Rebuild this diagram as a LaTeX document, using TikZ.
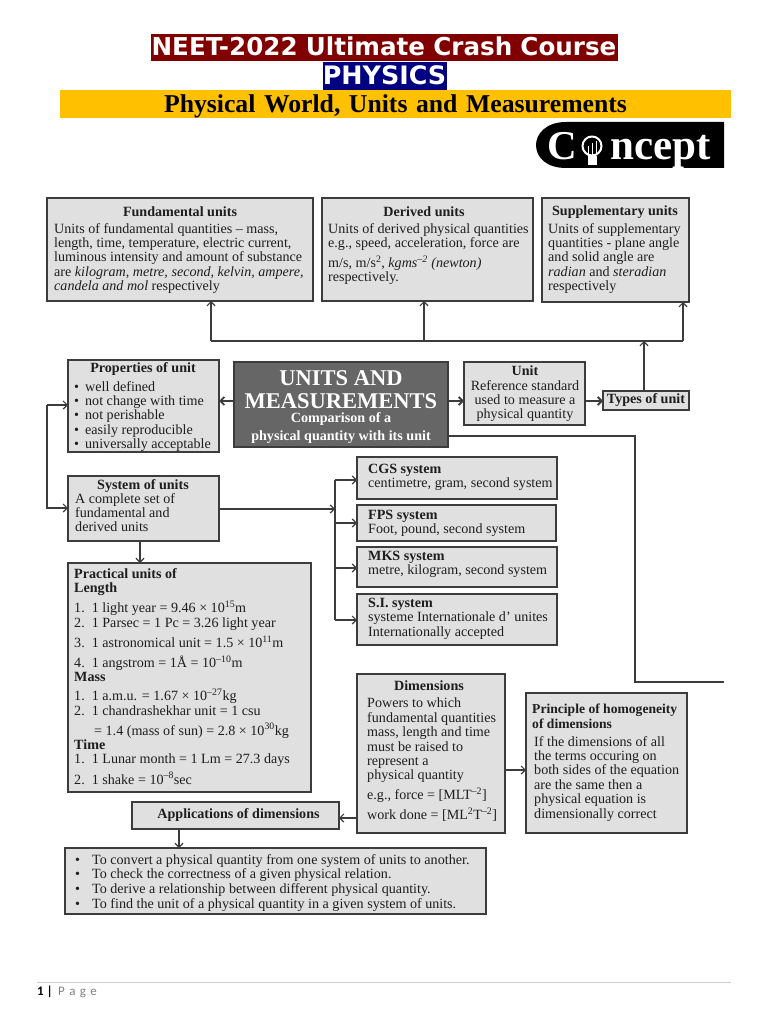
\documentclass[tikz,border=0pt]{standalone}
\usepackage{fontspec}
\setmainfont{Liberation Serif}
\newfontfamily\bannerfont{DejaVu Sans}
\newfontfamily\pagefont{Carlito}
\usetikzlibrary{arrows.meta,calc,positioning}
\definecolor{boxgray}{HTML}{E0E0E0}
\definecolor{boxline}{HTML}{3C3C3C}
\definecolor{maingray}{HTML}{666666}
\definecolor{inkgray}{HTML}{1E1E1E}
\definecolor{courseRed}{HTML}{800000}
\definecolor{physicsBlue}{HTML}{000080}
\definecolor{topicYellow}{HTML}{FFC000}
\newcommand{\up}[1]{\textsuperscript{#1}}
\newcommand{\dotitem}{\makebox[11pt][l]{•}}
\newcommand{\barbullet}{\makebox[17pt][l]{•}}
\tikzset{
  panel/.style={draw=boxline,fill=boxgray,line width=1.4pt,anchor=north west,inner sep=0pt,outer sep=0pt},
  panelhead/.style={text=inkgray,font=\bfseries\fontsize{14.1}{14.4}\selectfont,inner sep=0pt},
  paneltext/.style={text=inkgray,anchor=north west,align=left,inner sep=0pt,font=\fontsize{14.1}{14.4}\selectfont,execute at begin node=\strut},
  banner/.style={text=white,inner sep=0pt,font=\bannerfont\bfseries\fontsize{24.6}{26}\selectfont},
  mainhead/.style={text=white,inner sep=0pt,font=\bfseries\fontsize{22.5}{24}\selectfont},
  mainsub/.style={text=white,inner sep=0pt,font=\bfseries\fontsize{14.1}{15}\selectfont},
  wire/.style={draw=boxline,line width=1.2pt},
  link/.style={wire,-{Straight Barb[length=4pt,width=8pt]}},
  biglink/.style={link,line width=1.9pt}
}
\begin{document}
\begin{tikzpicture}[x=1pt,y=-1pt]
\useasboundingbox (0,0) rectangle (768,1024);
% page header
\node[banner,fill=courseRed,text width=467,align=center,text height=22,text depth=5] (course) at (384,47.5) {NEET-2022 Ultimate Crash Course};
\node[banner,fill=physicsBlue,text width=124,align=center,text height=23,text depth=5] (physics) at (384.5,76) {\fontsize{25.4}{26}\selectfont PHYSICS};
\node[fill=topicYellow,text=black,inner sep=0pt,text width=671,align=center,text height=23,text depth=5,font=\bfseries\fontsize{25.7}{26}\selectfont] (topic) at (395.5,104) {Physical World, Units and Measurements};
% logo
\fill[black] (724,122) -- (566,122) .. controls (546,122) and (536,134) .. (536,145) .. controls (536,157) and (546,168) .. (566,168) -- (724,168) -- cycle;
\node[text=white,inner sep=0pt,anchor=base,font=\bfseries\fontsize{41}{44}\selectfont] (logoc) at (562,160) {C};
\node[text=white,inner sep=0pt,anchor=base west,font=\bfseries\fontsize{43}{44}\selectfont] (logotext) at (610,160) {ncept};
\draw[white,line width=2pt] (592,146) circle[radius=9.5];
\draw[white,line width=.8pt] (592,155) -- (592,143) (588,154) -- (588,146) (596,154) -- (596,141);
\fill[white] (588,156) rectangle (597,165);
% top row
\node[panel,minimum width=266,minimum height=103] (fund) at (47,198) {};
\node[panelhead] (fundhead) at (180,212) {Fundamental units};
\node[paneltext] (fundtext) at (54,223) {Units of fundamental quantities – mass,\\length, time, temperature, electric current,\\luminous intensity and amount of substance\\are \textit{kilogram, metre, second, kelvin, ampere,}\\\textit{candela and mol} respectively};
\node[panel,minimum width=211,minimum height=103] (derived) at (322,198) {};
\node[panelhead] (derivedhead) at (424,212) {Derived units};
\node[paneltext] (derivedtext) at (328,223) {Units of derived physical quantities\\e.g., speed, acceleration, force are\\[4pt]m/s, m/s\up{2}, \textit{kgms}\up{\textit{–2}} \textit{(newton)}\\respectively.};
\node[panel,minimum width=147,minimum height=104] (supp) at (542,198) {};
\node[panelhead] (supphead) at (615,212) {Supplementary units};
\node[paneltext] (supptext) at (548,223) {Units of supplementary\\quantities - plane angle\\and solid angle are\\\textit{radian} and \textit{steradian}\\respectively};
% middle row
\node[panel,minimum width=151,minimum height=92] (prop) at (68,360) {};
\node[panelhead] (prophead) at (143,369) {Properties of unit};
\node[paneltext] (proptext) at (74,381) {\dotitem well defined\\\dotitem not change with time\\\dotitem not perishable\\\dotitem easily reproducible\\\dotitem universally acceptable};
\node[panel,fill=maingray,minimum width=214,minimum height=85] (main) at (234,362) {};
\node[mainhead] (mainone) at (341,378) {UNITS AND};
\node[mainhead] (maintwo) at (341,401) {MEASUREMENTS};
\node[mainsub] (mainthree) at (341,419) {Comparison of a};
\node[mainsub] (mainfour) at (341,437) {physical quantity with its unit};
\node[panel,minimum width=121,minimum height=63] (unit) at (464,362) {};
\node[panelhead] (unithead) at (525,371) {Unit};
\node[paneltext,anchor=north,align=center] (unittext) at (525,380) {Reference standard\\used to measure a\\physical quantity};
\node[panel,minimum width=86,minimum height=19,font=\bfseries\fontsize{14.1}{14.4}\selectfont,text=inkgray] (types) at (603,391) {Types of unit};
% systems
\node[panel,minimum width=151,minimum height=65] (system) at (68,476) {};
\node[panelhead] (systemhead) at (143,486) {System of units};
\node[paneltext] (systemtext) at (75,493) {A complete set of\\fundamental and\\derived units};
\node[panel,minimum width=200,minimum height=42] (cgs) at (357,457) {};
\node[paneltext] (cgstext) at (368,464) {\textbf{CGS system}\\centimetre, gram, second system};
\node[panel,minimum width=199,minimum height=36] (fps) at (357,505) {};
\node[paneltext] (fpstext) at (368,510) {\textbf{FPS system}\\Foot, pound, second system};
\node[panel,minimum width=200,minimum height=40] (mks) at (357,547) {};
\node[paneltext] (mkstext) at (368,551) {\textbf{MKS system}\\metre, kilogram, second system};
\node[panel,minimum width=200,minimum height=51] (si) at (357,594) {};
\node[paneltext] (sitext) at (368,598) {\textbf{S.I. system}\\systeme Internationale d’ unites\\Internationally accepted};
% practical units
\node[panel,minimum width=243,minimum height=229] (practical) at (68,563) {};
\node[paneltext] (practicaltext) at (74,568) {\textbf{Practical units of}\\\textbf{Length}\\[4.6pt]1.\ \ 1 light year = 9.46 × 10\up{15}m\\2.\ \ 1 Parsec = 1 Pc = 3.26 light year\\[4.6pt]3.\ \ 1 astronomical unit = 1.5 × 10\up{11}m\\[5.6pt]4.\ \ 1 angstrom = 1Å = 10\up{–10}m\\[-.4pt]\textbf{Mass}\\[4.6pt]1.\ \ 1 a.m.u. = 1.67 × 10\up{–27}kg\\2.\ \ 1 chandrashekhar unit = 1 csu\\[5.6pt]\hspace*{20pt}= 1.4 (mass of sun) = 2.8 × 10\up{30}kg\\[-.4pt]\textbf{Time}\\1.\ \ 1 Lunar month = 1 Lm = 27.3 days\\[4.6pt]2.\ \ 1 shake = 10\up{–8}sec};
% dimensions
\node[panel,minimum width=148,minimum height=159] (dims) at (357,674) {};
\node[panelhead] (dimshead) at (429,686) {Dimensions};
\node[paneltext] (dimstext) at (367,698) {Powers to which\\fundamental quantities\\mass, length and time\\must be raised to\\represent a\\physical quantity\\[3.6pt]e.g., force = [MLT\up{–2}]\\[4.6pt]work done = [ML\up{2}T\up{–2}]};
\node[panel,minimum width=161,minimum height=140] (homog) at (526,693) {};
\node[paneltext,font=\bfseries\fontsize{13.6}{14.4}\selectfont] (homoghead) at (532,704) {Principle of homogeneity\\of dimensions};
\node[paneltext] (homogtext) at (534,736) {If the dimensions of all\\the terms occuring on\\both sides of the equation\\are the same then a\\physical equation is\\dimensionally correct};
\node[panel,minimum width=207,minimum height=27,font=\bfseries\fontsize{14.1}{14.4}\selectfont,text=inkgray] (apps) at (132,802) {\hspace*{6pt}Applications of dimensions};
\node[panel,minimum width=421,minimum height=66] (uses) at (65,848) {};
\node[paneltext,font=\fontsize{14.1}{14.7}\selectfont] (usestext) at (75,854) {\barbullet To convert a physical quantity from one system of units to another.\\\barbullet To check the correctness of a given physical relation.\\\barbullet To derive a relationship between different physical quantity.\\\barbullet To find the unit of a physical quantity in a given system of units.};
% connectors
\coordinate (busleft) at (211,341);
\coordinate (busmid) at (424,341);
\coordinate (busright) at (683,341);
\coordinate (bustype) at (644,341);
\coordinate (rowmain) at (0,401);
\coordinate (sidewire) at (47,0);
\coordinate (syswire) at (335,509);
\coordinate (lowwire) at (635,436);
\coordinate (lowend) at (724,682);
\draw[wire] (busleft) -- (busright);
\draw[link] (busleft) -- (busleft |- fund.south);
\draw[link] (busmid) -- (busmid |- derived.south);
\draw[link] (busright) -- (busright |- supp.south);
\draw[link] (types.north -| bustype) -- (bustype);
\draw[biglink] (main.west |- rowmain) -- (prop.east |- rowmain);
\draw[biglink] (main.east |- rowmain) -- (unit.west |- rowmain);
\draw[biglink] (unit.east |- rowmain) -- (types.west |- rowmain);
\draw[wire] (main.east |- lowwire) -- (lowwire) |- (lowend);
\draw[link] (sidewire |- 0,405) -- (prop.west |- 0,405);
\draw[link] (sidewire |- 0,405) -- (sidewire |- 0,508) -- (system.west |- 0,508);
\draw[link] (system.east |- syswire) -- (syswire);
\draw[wire] (syswire |- 0,480) -- (syswire |- 0,620);
\foreach \name/\row in {cgs/480,fps/523,mks/568,si/620}
  \draw[link] (syswire |- 0,\row) -- (\name.west |- 0,\row);
\draw[link] (system.south -| 140,0) -- (practical.north -| 140,0);
\draw[link] (dims.east |- 0,770) -- (homog.west |- 0,770);
\draw[link] (dims.west |- 0,818) -- (apps.east |- 0,818);
\draw[link] (apps.south -| 179,0) -- (uses.north -| 179,0);
% footer
\draw[gray!40,line width=.8pt] (37,982) -- (731,982);
\node[anchor=west,inner sep=0pt,font=\pagefont\bfseries\fontsize{13}{14}\selectfont] (pagenum) at (37,992) {1 |};
\node[anchor=west,inner sep=0pt,text=gray,font=\pagefont\fontsize{13}{14}\selectfont] (pageword) at (58,992) {P\,\,a\,\,g\,\,e};
\end{tikzpicture}
\end{document}
